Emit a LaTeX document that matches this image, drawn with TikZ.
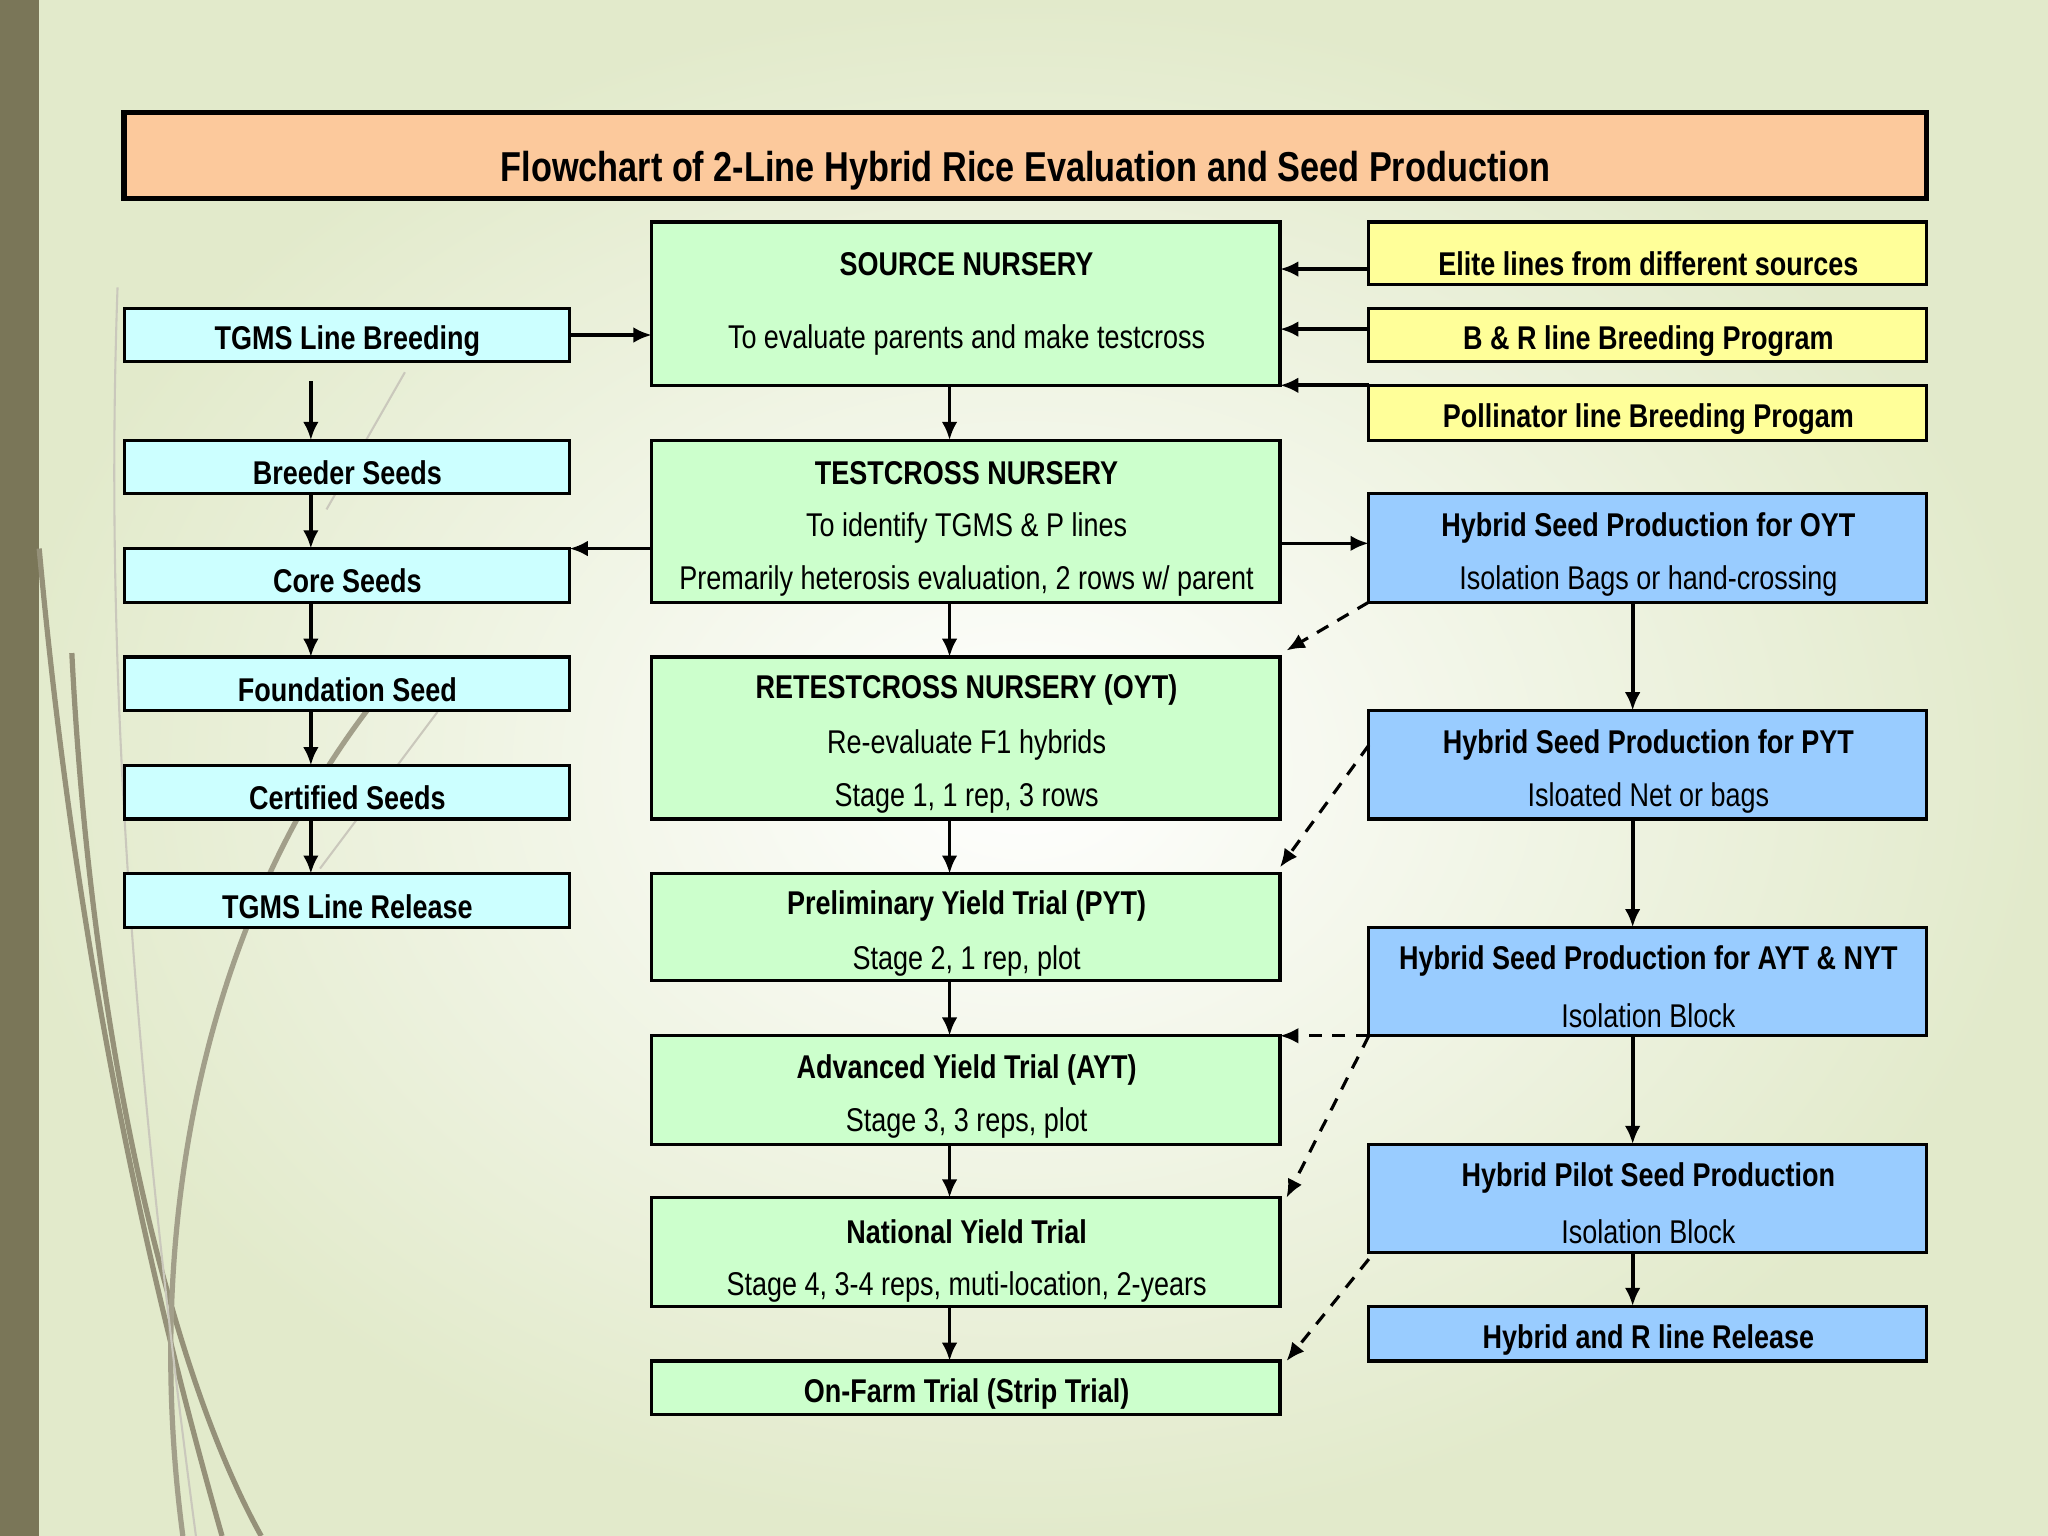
\documentclass[tikz,border=0pt]{standalone}
\usepackage{fontspec}
\setmainfont{Liberation Sans}[FakeStretch=0.82]
\usetikzlibrary{arrows.meta,calc}
\definecolor{olivebar}{HTML}{7A7658}
\definecolor{bgout}{HTML}{E2EACB}
\definecolor{peach}{HTML}{FCC99C}
\definecolor{lcyan}{HTML}{CCFFFF}
\definecolor{lgreen}{HTML}{CCFFCC}
\definecolor{lyellow}{HTML}{FFFF99}
\definecolor{lblue}{HTML}{99CCFF}
\tikzset{
 box/.style={draw=black,line width=1.2pt,inner sep=0pt,outer sep=0pt,anchor=north west},
 ttl/.style={font=\fontsize{12.6}{14}\selectfont\bfseries},
 txt/.style={font=\fontsize{12.6}{14}\selectfont},
 arr/.style={line width=1.4pt,-{Latex[length=7pt,width=6pt]}},
 darr/.style={line width=1.2pt,dashed,dash pattern=on 5pt off 4pt,-{Latex[length=7pt,width=6pt]}},
}
\newcommand\bx[6]{\node[box,fill=#6,minimum width={(#4-#2)*0.5pt},minimum height={(#5-#3)*0.5pt}] (#1) at (#2,#3) {};}
\begin{document}
\begin{tikzpicture}[x=0.5pt,y=-0.5pt]
\useasboundingbox (0,0) rectangle (1568,1176);
\shade[inner color=white,outer color=bgout] (0,0) rectangle (1568,1176);
\fill[olivebar] (0,0) rectangle (30,1176);
\draw[olivebar!80,line width=2pt] (30,420) .. controls (60,750) and (120,1000) .. (170,1176);
\draw[olivebar!80,line width=2pt] (55,500) .. controls (70,800) and (130,1050) .. (200,1176);
\draw[olivebar!70,line width=2pt] (300,520) .. controls (150,700) and (110,950) .. (140,1176);
\draw[olivebar!40,line width=0.8pt] (90,220) .. controls (80,500) and (100,800) .. (150,1176);
\draw[olivebar!40,line width=0.8pt] (335,545) -- (245,665);
\draw[olivebar!40,line width=0.8pt] (310,285) -- (250,390);
% title
\node[box,fill=peach,line width=2pt,minimum width=690pt,minimum height=33pt] (title) at (95,86) {};
\node[font=\fontsize{16}{18}\selectfont\bfseries] (tt) at (785,131) {Flowchart of 2-Line Hybrid Rice Evaluation and Seed Production};
% left
\bx{l1}{95}{236}{436}{277}{lcyan}\node[ttl] (l1t) at (266,261) {TGMS Line Breeding};
\bx{l2}{95}{337}{436}{378}{lcyan}\node[ttl] (l2t) at (266,362) {Breeder Seeds};
\bx{l3}{95}{420}{436}{461}{lcyan}\node[ttl] (l3t) at (266,445) {Core Seeds};
\bx{l4}{95}{503}{436}{544}{lcyan}\node[ttl] (l4t) at (266,528) {Foundation Seed};
\bx{l5}{95}{586}{436}{627}{lcyan}\node[ttl] (l5t) at (266,611) {Certified Seeds};
\bx{l6}{95}{669}{436}{710}{lcyan}\node[ttl] (l6t) at (266,694) {TGMS Line Release};
% middle
\bx{m1}{499}{170}{980}{295}{lgreen}
\node[ttl] (m1a) at (740,202) {SOURCE NURSERY};
\node[txt] (m1b) at (740,260) {To evaluate parents and make testcross};
\bx{m2}{499}{337}{980}{461}{lgreen}
\node[ttl] (m2a) at (740,362) {TESTCROSS NURSERY};
\node[txt] (m2b) at (740,404) {To identify TGMS \& P lines};
\node[txt] (m2c) at (740,445) {Premarily heterosis evaluation, 2 rows w/ parent};
\bx{m3}{499}{503}{980}{627}{lgreen}
\node[ttl] (m3a) at (740,528) {RETESTCROSS NURSERY (OYT)};
\node[txt] (m3b) at (740,570) {Re-evaluate F1 hybrids};
\node[txt] (m3c) at (740,611) {Stage 1, 1 rep, 3 rows};
\bx{m4}{499}{669}{980}{751}{lgreen}
\node[ttl] (m4a) at (740,694) {Preliminary Yield Trial (PYT)};
\node[txt] (m4b) at (740,736) {Stage 2, 1 rep, plot};
\bx{m5}{499}{793}{980}{876}{lgreen}
\node[ttl] (m5a) at (740,819) {Advanced Yield Trial (AYT)};
\node[txt] (m5b) at (740,860) {Stage 3, 3 reps, plot};
\bx{m6}{499}{917}{980}{1000}{lgreen}
\node[ttl] (m6a) at (740,943) {National Yield Trial};
\node[txt] (m6b) at (740,985) {Stage 4, 3-4 reps, muti-location, 2-years};
\bx{m7}{499}{1042}{980}{1083}{lgreen}
\node[ttl] (m7a) at (740,1067) {On-Farm Trial (Strip Trial)};
% right yellow
\bx{y1}{1048}{170}{1475}{218}{lyellow}\node[ttl] (y1t) at (1262,202) {Elite lines from different sources};
\bx{y2}{1048}{236}{1475}{277}{lyellow}\node[ttl] (y2t) at (1262,261) {B \& R line Breeding Program};
\bx{y3}{1048}{295}{1475}{337}{lyellow}\node[ttl] (y3t) at (1262,321) {Pollinator line Breeding Progam};
% right blue
\bx{b1}{1048}{378}{1475}{461}{lblue}
\node[ttl] (b1a) at (1262,404) {Hybrid Seed Production for OYT};
\node[txt] (b1b) at (1262,445) {Isolation Bags or hand-crossing};
\bx{b2}{1048}{544}{1475}{627}{lblue}
\node[ttl] (b2a) at (1262,570) {Hybrid Seed Production for PYT};
\node[txt] (b2b) at (1262,611) {Isloated Net or bags};
\bx{b3}{1048}{710}{1475}{793}{lblue}
\node[ttl] (b3a) at (1262,736) {Hybrid Seed Production for AYT \& NYT};
\node[txt] (b3b) at (1262,778) {Isolation Block};
\bx{b4}{1048}{876}{1475}{959}{lblue}
\node[ttl] (b4a) at (1262,902) {Hybrid Pilot Seed Production};
\node[txt] (b4b) at (1262,943) {Isolation Block};
\bx{b5}{1048}{1000}{1475}{1042}{lblue}\node[ttl] (b5t) at (1262,1026) {Hybrid and R line Release};
% coordinates
\coordinate (xl) at (238,0);
\coordinate (xm) at (727,0);
\coordinate (xr) at (1250,0);
% left arrows
\draw[arr] (l1.east) -- (m1.west |- l1.east);
\draw[arr,shorten <=7.5pt] (l1.south -| xl) -- (l2.north -| xl);
\draw[arr] (l2.south -| xl) -- (l3.north -| xl);
\draw[arr] (l3.south -| xl) -- (l4.north -| xl);
\draw[arr] (l4.south -| xl) -- (l5.north -| xl);
\draw[arr] (l5.south -| xl) -- (l6.north -| xl);
% middle arrows
\draw[arr] (m1.south -| xm) -- (m2.north -| xm);
\draw[arr] (m2.south -| xm) -- (m3.north -| xm);
\draw[arr] (m3.south -| xm) -- (m4.north -| xm);
\draw[arr] (m4.south -| xm) -- (m5.north -| xm);
\draw[arr] (m5.south -| xm) -- (m6.north -| xm);
\draw[arr] (m6.south -| xm) -- (m7.north -| xm);
% yellow to source
\coordinate (ya) at (0,206); \coordinate (yb) at (0,252); \coordinate (yc) at (0,295);
\draw[arr] (y1.west |- ya) -- (m1.east |- ya);
\draw[arr] (y2.west |- yb) -- (m1.east |- yb);
\draw[arr] (y3.north west) -- (m1.east |- yc);
% testcross sideways
\coordinate (ta) at (0,420); \coordinate (tb) at (0,416);
\draw[arr] (m2.west |- ta) -- (l3.east |- ta);
\draw[arr] (m2.east |- tb) -- (b1.west |- tb);
% blue down
\draw[arr] (b1.south -| xr) -- (b2.north -| xr);
\draw[arr] (b2.south -| xr) -- (b3.north -| xr);
\draw[arr] (b3.south -| xr) -- (b4.north -| xr);
\draw[arr] (b4.south -| xr) -- (b5.north -| xr);
% dashed
\draw[darr] (b1.south west) -- ($(m3.north east)+(5,-5)$);
\draw[darr] ($(b2.west)+(0,-15)$) -- ($(m4.north east)+(0,-5)$);
\draw[darr] (b3.south west) -- (m5.north east);
\draw[darr] (b3.south west) -- ($(m6.north east)+(5,0)$);
\draw[darr] ($(b4.south west)+(0,5)$) -- ($(m7.north east)+(5,0)$);
\end{tikzpicture}
\end{document}
